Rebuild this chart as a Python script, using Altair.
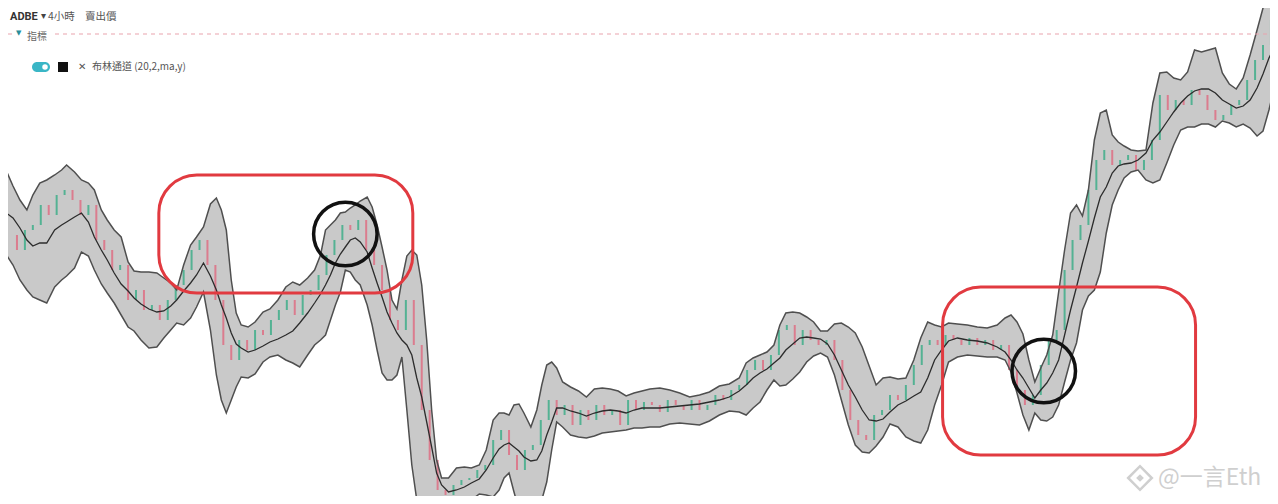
import altair as alt
import pandas as pd

# ---- Bollinger band (20,2) ----
t = [0, 8, 15, 22, 28, 35, 42, 50, 57, 62,
     70, 77, 84, 90, 97, 103, 110, 117, 124, 130,
     137, 145, 153, 160, 167, 173, 180, 187, 193, 200,
     207, 213, 218, 223, 228, 233, 238, 245, 252, 260,
     267, 275, 283, 290, 297, 305, 312, 318, 323, 328,
     333, 338, 343, 348, 353, 358, 365, 370, 375, 380,
     385, 390, 395, 400, 405, 410, 415, 420, 425, 430,
     435, 440, 447, 455, 463, 470, 478, 485, 492, 498,
     503, 508, 513, 518, 523, 530, 536, 541, 546, 551,
     556, 562, 570, 578, 586, 594, 602, 610, 618, 626,
     634, 642, 650, 660, 670, 680, 690, 700, 710, 720,
     730, 740, 747, 754, 761, 768, 775, 781, 787, 794,
     801, 808, 815, 822, 829, 836, 843, 850, 857, 864,
     871, 878, 885, 892, 900, 908, 916, 923, 930, 937,
     944, 951, 960, 970, 980, 990, 1000, 1008, 1014, 1020,
     1026, 1032, 1038, 1044, 1050, 1056, 1062, 1068, 1074, 1080,
     1086, 1092, 1098, 1104, 1110, 1116, 1122, 1128, 1135, 1142,
     1150, 1157, 1164, 1171, 1178, 1185, 1192, 1199, 1206, 1213,
     1220, 1227, 1234, 1241, 1248, 1255, 1262, 1268, 1274, 1278]

upper = [432, 414, 400, 390, 405, 417, 420, 425, 430, 435,
         428, 420, 417, 410, 390, 380, 370, 363, 338, 329,
         328, 328, 327, 322, 317, 310, 335, 355, 363, 373,
         396, 402, 390, 370, 320, 287, 275, 273, 278, 288,
         291, 300, 313, 318, 315, 322, 330, 345, 370, 375,
         380, 387, 388, 392, 395, 399, 403, 393, 375, 353,
         330, 300, 291, 320, 344, 350, 345, 315, 260, 190,
         140, 122, 122, 132, 133, 132, 135, 150, 180, 187,
         187, 185, 195, 196, 187, 173, 190, 215, 235, 238,
         232, 218, 213, 209, 203, 211, 212, 211, 209, 204,
         207, 209, 211, 212, 210, 207, 203, 205, 208, 214,
         216, 222, 237, 242, 245, 248, 255, 275, 287, 288,
         287, 283, 278, 269, 269, 276, 277, 273, 267, 253,
         234, 215, 222, 223, 221, 222, 240, 262, 278, 275,
         273, 277, 276, 275, 273, 272, 275, 282, 285, 278,
         266, 240, 218, 232, 245, 265, 308, 350, 387, 395,
         384, 410, 460, 487, 490, 465, 458, 454, 450, 449,
         450, 497, 527, 528, 522, 520, 528, 550, 548, 550,
         552, 527, 516, 511, 522, 545, 570, 592, 605, 610]

middle = [388, 382, 372, 360, 354, 357, 357, 370, 375, 378,
          383, 387, 378, 363, 350, 340, 327, 316, 309, 302,
          296, 291, 288, 289, 294, 300, 309, 317, 325, 337,
          324, 310, 295, 282, 267, 256, 252, 248, 250, 254,
          258, 261, 265, 269, 277, 287, 297, 306, 315, 325,
          337, 346, 353, 360, 362, 358, 348, 332, 317, 303,
          288, 277, 267, 260, 255, 245, 222, 203, 178, 153,
          127, 115, 108, 110, 113, 117, 121, 130, 142, 151,
          155, 157, 153, 149, 143, 139, 140, 149, 165, 178,
          192, 192, 189, 187, 184, 187, 189, 190, 189, 187,
          190, 192, 192, 192, 193, 194, 195, 196, 198, 200,
          203, 209, 215, 222, 227, 231, 237, 242, 250, 256,
          262, 263, 262, 261, 256, 245, 230, 215, 203, 190,
          180, 179, 181, 188, 195, 199, 204, 208, 222, 240,
          250, 259, 262, 260, 259, 257, 253, 248, 240, 230,
          222, 212, 202, 210, 217, 227, 240, 265, 290, 313,
          337, 359, 382, 403, 413, 427, 434, 436, 437, 440,
          447, 460, 468, 478, 488, 497, 504, 509, 511, 511,
          507, 500, 496, 492, 494, 500, 512, 526, 542, 550]

lower = [347, 335, 320, 310, 303, 300, 297, 313, 320, 324,
         332, 348, 344, 330, 316, 307, 297, 285, 273, 269,
         260, 252, 253, 262, 270, 277, 275, 282, 293, 308,
         270, 225, 200, 187, 200, 213, 223, 222, 226, 238,
         243, 245, 240, 237, 233, 245, 255, 260, 265, 280,
         295, 308, 330, 328, 320, 315, 295, 275, 250, 227,
         220, 220, 225, 243, 190, 135, 100, 90, 90, 95,
         95, 95, 92, 90, 93, 100, 106, 105, 103, 110,
         122, 127, 108, 90, 80, 82, 88, 100, 118, 150,
         178, 173, 165, 163, 162, 164, 167, 168, 169, 170,
         172, 172, 173, 173, 176, 177, 176, 175, 179, 185,
         189, 188, 185, 192, 198, 210, 220, 214, 215, 221,
         228, 238, 244, 247, 243, 225, 200, 175, 155, 148,
         147, 154, 163, 176, 173, 163, 159, 157, 170, 195,
         215, 238, 243, 245, 244, 243, 243, 240, 228, 207,
         185, 170, 187, 180, 179, 183, 195, 218, 240, 257,
         290, 304, 310, 328, 367, 395, 410, 422, 428, 430,
         420, 417, 420, 437, 455, 470, 473, 473, 476, 476,
         473, 479, 477, 473, 476, 472, 464, 469, 490, 507]

# ---- 4h candles (closes) ----
candle_t = [4, 12, 20, 28, 36, 44, 52, 60, 68, 76,
            84, 92, 100, 108, 116, 124, 132, 140, 148, 156,
            164, 172, 180, 188, 196, 204, 212, 220, 228, 236,
            244, 252, 260, 268, 276, 284, 292, 300, 308, 316,
            324, 332, 340, 348, 356, 364, 372, 380, 388, 396,
            404, 412, 420, 428, 436, 444, 452, 460, 468, 476,
            484, 492, 500, 508, 516, 524, 532, 540, 548, 556,
            564, 572, 580, 588, 596, 604, 612, 620, 628, 636,
            644, 652, 660, 668, 676, 684, 692, 700, 708, 716,
            724, 732, 740, 748, 756, 764, 772, 780, 788, 796,
            804, 812, 820, 828, 836, 844, 852, 860, 868, 876,
            884, 892, 900, 908, 916, 924, 932, 940, 948, 956,
            964, 972, 980, 988, 996, 1004, 1012, 1020, 1028, 1036,
            1044, 1052, 1060, 1068, 1076, 1084, 1092, 1100, 1108, 1116,
            1124, 1132, 1140, 1148, 1156, 1164, 1172, 1180, 1188, 1196,
            1204, 1212, 1220, 1228, 1236, 1244, 1252, 1260, 1268, 1276]

candle_close = [365, 350, 370, 375, 395, 385, 405, 410, 400, 385,
                395, 360, 350, 330, 335, 300, 310, 290, 295, 280,
                300, 315, 330, 350, 360, 335, 300, 255, 240, 260,
                250, 270, 265, 280, 290, 300, 285, 305, 310, 325,
                345, 360, 375, 370, 380, 350, 335, 310, 280, 270,
                300, 255, 190, 140, 110, 105, 115, 120, 122, 130,
                135, 160, 170, 145, 130, 150, 155, 180, 200, 185,
                195, 175, 190, 180, 195, 185, 190, 175, 200, 190,
                198, 195, 188, 200, 195, 190, 200, 190, 195, 205,
                200, 210, 215, 230, 240, 230, 245, 270, 275, 255,
                270, 260, 255, 260, 240, 210, 180, 165, 160, 185,
                190, 205, 200, 215, 235, 255, 260, 255, 265, 260,
                255, 262, 255, 260, 250, 255, 230, 210, 195, 205,
                235, 260, 270, 330, 360, 375, 410, 440, 450, 435,
                440, 445, 430, 440, 460, 505, 490, 500, 495, 510,
                505, 490, 480, 485, 495, 500, 520, 540, 555, 580]

# ---- reference lines / annotations ----
grid_t = [57, 120, 182, 245, 308, 372, 437, 502, 587, 685, 775, 867,
          943, 1003, 1070, 1133, 1200, 1263]
grid_price = [548, 465, 382, 298, 215, 132]
last_price = [566]
box_t0 = [155, 945]
box_t1 = [411, 1200]
box_hi = [425, 313]
box_lo = [307, 145]
ring_t = [343, 1047]
ring_price = [366, 229]

band = pd.DataFrame({"t": t, "upper": upper, "middle": middle, "lower": lower})
candles = pd.DataFrame({"t": candle_t, "close": candle_close})
candles["open"] = candles["close"].shift(1).fillna(candles["close"])
candles["dir"] = ["up" if c >= o else "down" for c, o in zip(candles["close"], candles["open"])]
boxes = pd.DataFrame({"t0": box_t0, "t1": box_t1, "hi": box_hi, "lo": box_lo})
rings = pd.DataFrame({"t": ring_t, "price": ring_price})
lastp = pd.DataFrame({"price": last_price})
one = pd.DataFrame({"k": [0]})

W, H = 1262, 488
xs = alt.Scale(domain=[8, 1270], nice=False, zero=False)
ys = alt.Scale(domain=[104, 592], nice=False, zero=False)

X = alt.X("t:Q", scale=xs, axis=alt.Axis(values=grid_t, grid=True, labels=False, ticks=False,
                                           domain=False, title=None, gridColor="#efefef", gridWidth=1))
Xn = alt.X("t:Q", scale=xs, axis=None)

area = alt.Chart(band).mark_area(color="#c9c9c9", clip=True).encode(
    x=X,
    y=alt.Y("lower:Q", scale=ys, axis=alt.Axis(values=grid_price, grid=True, labels=False, ticks=False,
                                                 domain=False, title=None, gridColor="#efefef", gridWidth=1)),
    y2="upper:Q",
)

cndl = alt.Chart(candles).mark_bar(size=2, clip=True, opacity=0.85).encode(
    x=Xn,
    y=alt.Y("open:Q", scale=ys, axis=None),
    y2="close:Q",
    color=alt.Color("dir:N", scale=alt.Scale(domain=["up", "down"], range=["#3fae8a", "#de6f84"]), legend=None),
)

def band_line(field, color, w):
    return alt.Chart(band).mark_line(color=color, strokeWidth=w, clip=True).encode(
        x=Xn, y=alt.Y(f"{field}:Q", scale=ys, axis=None))

up_l = band_line("upper", "#4f4f4f", 1.5)
lo_l = band_line("lower", "#4f4f4f", 1.5)
mid_l = band_line("middle", "#2c2c2c", 1.3)

dash1 = alt.Chart(lastp).mark_rule(color="#e9a3ad", strokeDash=[4, 4], strokeWidth=1).encode(
    y=alt.Y("price:Q", scale=ys, axis=None), x=alt.value(47), x2=alt.value(W))
dash2 = alt.Chart(lastp).mark_rule(color="#e9a3ad", strokeDash=[4, 4], strokeWidth=1).encode(
    y=alt.Y("price:Q", scale=ys, axis=None), x=alt.value(0), x2=alt.value(4))

box = alt.Chart(boxes).mark_rect(fill="transparent", stroke="#e13a40", strokeWidth=3,
                                 cornerRadius=38, clip=True).encode(
    x=alt.X("t0:Q", scale=xs, axis=None), x2="t1:Q",
    y=alt.Y("hi:Q", scale=ys, axis=None), y2="lo:Q")

ring = alt.Chart(rings).mark_point(shape="circle", filled=False, size=4030, stroke="#111111",
                                   strokeWidth=3.5, opacity=1).encode(
    x=Xn, y=alt.Y("price:Q", scale=ys, axis=None))

def txt(s, x, y, size, color, font="Noto Sans CJK TC", weight="normal", baseline="middle"):
    return alt.Chart(one).mark_text(text=s, align="left", baseline=baseline, fontSize=size,
                                    color=color, font=font, fontWeight=weight).encode(
        x=alt.value(x), y=alt.value(y))

hdr = [
    txt("ADBE", 2, 3, 11, "#333333", font="Roboto", weight="bold", baseline="top"),
    txt("▾", 33, 3, 10, "#444444", font="DejaVu Sans", baseline="top"),
    txt("4小時", 40, 4, 10.5, "#555555", baseline="top"),
    txt("賣出價", 77, 4, 10.5, "#555555", baseline="top"),
    txt("▼", 8, 25, 7, "#2b8d99", font="DejaVu Sans"),
    txt("指標", 19, 29, 10, "#666666"),
    txt("✕", 70, 59, 10, "#555555", font="DejaVu Sans"),
    txt("布林通道 (20,2,ma,y)", 84, 59, 10, "#555555"),
    txt("@一言Eth", 1150, 470, 23, "#cfcfcf", font="Noto Sans CJK SC"),
]

pill = alt.Chart(one).mark_rect(fill="#3ab6c6", cornerRadius=5).encode(
    x=alt.value(24), x2=alt.value(42), y=alt.value(54), y2=alt.value(64))
knob = alt.Chart(one).mark_point(shape="circle", filled=True, color="white", size=30, opacity=1).encode(
    x=alt.value(37), y=alt.value(59))
sq = alt.Chart(one).mark_rect(fill="#111111").encode(
    x=alt.value(50), x2=alt.value(60), y=alt.value(54), y2=alt.value(64))
logo = alt.Chart(one).mark_point(shape="diamond", filled=False, stroke="#cfcfcf", strokeWidth=2.5,
                                 size=560, opacity=1).encode(x=alt.value(1132), y=alt.value(470))
logo2 = alt.Chart(one).mark_point(shape="diamond", filled=True, color="#cfcfcf",
                                  size=60, opacity=1).encode(x=alt.value(1132), y=alt.value(470))

chart = alt.layer(area, cndl, up_l, lo_l, mid_l, dash1, dash2, box, ring, pill, knob, sq,
                  logo, logo2, *hdr).properties(
    width=W, height=H, padding=0, autosize=alt.AutoSizeParams(type="none"),
    background="white",
).configure_view(strokeWidth=0)

chart.save("out.html", embed_options={"renderer": "svg", "actions": False})
